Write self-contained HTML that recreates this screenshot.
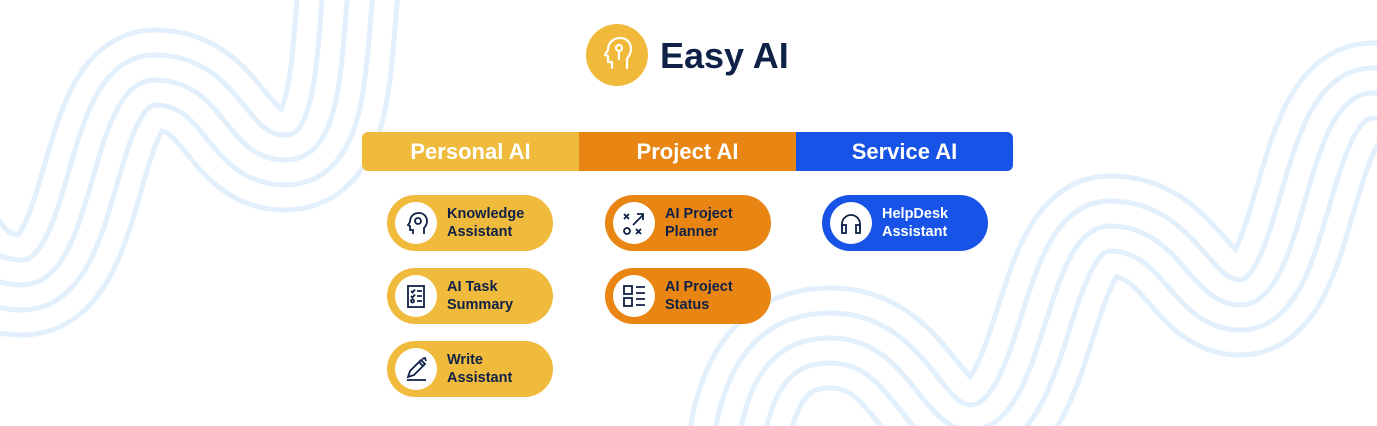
<!DOCTYPE html>
<html><head><meta charset="utf-8"><style>
html,body{margin:0;padding:0;background:#fff;overflow:hidden;width:1377px;height:426px}
body{position:relative;font-family:"Liberation Sans",sans-serif}
svg.bg{position:absolute;left:0;top:0;display:block}
.title{position:absolute;left:660px;top:35px;font-size:36px;font-weight:bold;color:#0f2147}
.logo{position:absolute;left:586px;top:24px;width:62px;height:62px;border-radius:50%;background:#f0b93a}
.bar{position:absolute;top:132px;height:39px;color:#fff;font-size:22px;font-weight:bold;text-align:center;line-height:39px}
.pill{position:absolute;width:166px;height:56px;border-radius:28px}
.pill .c{position:absolute;left:8px;top:7px;width:42px;height:42px;border-radius:50%;background:#fff}
.pill .c svg{position:absolute;left:0;top:0}
.pill .t{position:absolute;left:60px;top:11px;font-size:14.5px;font-weight:bold;line-height:17.5px;color:#0f2147}
.y{background:#f0bb3c}.o{background:#e98613}.b{background:#1653e6}
.b .t{color:#fff}
</style></head><body>
<svg class="bg" width="1377" height="426" fill="none">
<path d="M -70,150 C -60,250 -25,285 22,285 C 100,285 85,80 155,80 C 225,80 225,160 285,160 C 345,160 340,60 350,-30" stroke="#e2effc" stroke-width="105"/>
<path d="M -70,150 C -60,250 -25,285 22,285 C 100,285 85,80 155,80 C 225,80 225,160 285,160 C 345,160 340,60 350,-30" stroke="#fff" stroke-width="95"/>
<path d="M -70,150 C -60,250 -25,285 22,285 C 100,285 85,80 155,80 C 225,80 225,160 285,160 C 345,160 340,60 350,-30" stroke="#e2effc" stroke-width="55"/>
<path d="M -70,150 C -60,250 -25,285 22,285 C 100,285 85,80 155,80 C 225,80 225,160 285,160 C 345,160 340,60 350,-30" stroke="#fff" stroke-width="45"/>
<path d="M -70,150 C -60,250 -25,285 22,285 C 100,285 85,80 155,80 C 225,80 225,160 285,160 C 345,160 340,60 350,-30" stroke="#e2effc" stroke-width="5"/>
<path d="M 735,480 C 740,370 780,338 830,338 C 910,338 920,430 970,430 C 1050,430 1040,226 1110,226 C 1180,226 1190,305 1240,305 C 1310,305 1300,93 1373,93 C 1420,93 1440,120 1450,160" stroke="#e2effc" stroke-width="105"/>
<path d="M 735,480 C 740,370 780,338 830,338 C 910,338 920,430 970,430 C 1050,430 1040,226 1110,226 C 1180,226 1190,305 1240,305 C 1310,305 1300,93 1373,93 C 1420,93 1440,120 1450,160" stroke="#fff" stroke-width="95"/>
<path d="M 735,480 C 740,370 780,338 830,338 C 910,338 920,430 970,430 C 1050,430 1040,226 1110,226 C 1180,226 1190,305 1240,305 C 1310,305 1300,93 1373,93 C 1420,93 1440,120 1450,160" stroke="#e2effc" stroke-width="55"/>
<path d="M 735,480 C 740,370 780,338 830,338 C 910,338 920,430 970,430 C 1050,430 1040,226 1110,226 C 1180,226 1190,305 1240,305 C 1310,305 1300,93 1373,93 C 1420,93 1440,120 1450,160" stroke="#fff" stroke-width="45"/>
<path d="M 735,480 C 740,370 780,338 830,338 C 910,338 920,430 970,430 C 1050,430 1040,226 1110,226 C 1180,226 1190,305 1240,305 C 1310,305 1300,93 1373,93 C 1420,93 1440,120 1450,160" stroke="#e2effc" stroke-width="5"/>
</svg>

<div class="logo"><svg width="62" height="62" viewBox="0 0 62 62" fill="none" stroke="#fff" stroke-width="2.2" stroke-linecap="round" stroke-linejoin="round">
<path d="M26 44 v-6 h-4 v-6 l-3 -1 l3 -5 c0 -8 6 -12 12 -12 c7 0 11 5 11 11 c0 5 -3 8 -4 10 v9"/>
<circle cx="33" cy="24" r="3"/><path d="M33 27 v8"/></svg></div>
<div class="title">Easy AI</div>

<div class="bar" style="left:362px;width:217px;background:#f0bb3c;border-radius:6px 0 0 6px">Personal AI</div>
<div class="bar" style="left:579px;width:217px;background:#e98613">Project AI</div>
<div class="bar" style="left:796px;width:217px;background:#1653e6;border-radius:0 6px 6px 0">Service AI</div>

<div class="pill y" style="left:387px;top:195px"><div class="c"><svg width="42" height="42" fill="none" stroke="#0f2147" stroke-width="1.8"><path d="M18 32 v-4 h-3 v-4 l-2 -1 l2 -3 c0 -6 4 -9 9 -9 c5 0 8 4 8 8 c0 4 -2 6 -3 7 v6"/><circle cx="23" cy="19" r="3"/></svg></div><div class="t">Knowledge<br>Assistant</div></div>
<div class="pill y" style="left:387px;top:268px"><div class="c"><svg width="42" height="42" fill="none" stroke="#0f2147" stroke-width="1.8"><rect x="13" y="11" width="16" height="21"/><path d="M16 16 l1.5 1.5 l2.5 -3 M22 16 h5 M16 21 l1.5 1.5 l2.5 -3 M22 21 h5 M22 26 h5"/><circle cx="17.5" cy="26" r="1.5"/></svg></div><div class="t">AI Task<br>Summary</div></div>
<div class="pill y" style="left:387px;top:341px"><div class="c"><svg width="42" height="42" fill="none" stroke="#0f2147" stroke-width="1.8"><path d="M13 29 l2 -6 l11 -11 l4 4 l-11 11 z M24 14 l4 4 M27 11 l3 -1 l1 3"/><path d="M12 32 h19"/></svg></div><div class="t">Write<br>Assistant</div></div>

<div class="pill o" style="left:605px;top:195px"><div class="c"><svg width="42" height="42" fill="none" stroke="#0f2147" stroke-width="1.8"><path d="M11 12 l5 5 M16 12 l-5 5 M23 27 l5 5 M28 27 l-5 5 M20 23 l10 -10 M24 12 h6 v6"/><circle cx="14" cy="29" r="3"/></svg></div><div class="t">AI Project<br>Planner</div></div>
<div class="pill o" style="left:605px;top:268px"><div class="c"><svg width="42" height="42" fill="none" stroke="#0f2147" stroke-width="1.8"><rect x="11" y="11" width="8" height="8"/><rect x="11" y="23" width="8" height="8"/><path d="M23 12 h9 M23 18 h9 M23 24 h9 M23 30 h9"/></svg></div><div class="t">AI Project<br>Status</div></div>

<div class="pill b" style="left:822px;top:195px"><div class="c"><svg width="42" height="42" fill="none" stroke="#0f2147" stroke-width="1.8"><path d="M12 28 v-6 a9 9 0 0 1 18 0 v6"/><rect x="12" y="23" width="4" height="8"/><rect x="26" y="23" width="4" height="8"/></svg></div><div class="t">HelpDesk<br>Assistant</div></div>
</body></html>
